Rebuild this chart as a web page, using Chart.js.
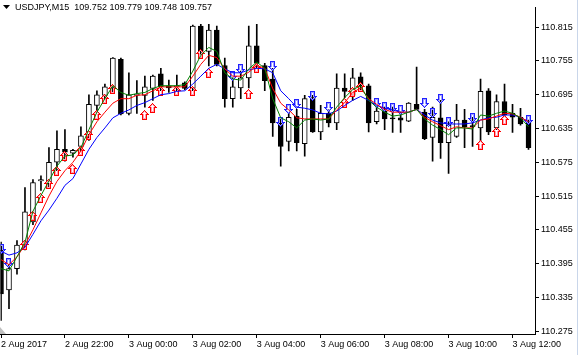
<!DOCTYPE html>
<html><head><meta charset="utf-8">
<script src="https://cdn.jsdelivr.net/npm/chart.js@4.4.1/dist/chart.umd.min.js"></script>
<style>html,body{margin:0;padding:0;background:#fff;overflow:hidden}#wrap{width:580px;height:355px;position:relative}</style>
</head><body><div id="wrap"><canvas id="c" width="580" height="355"></canvas></div>
<script>
const symbolTitle = 'USDJPY,M15';
const headerQuote = ['109.752', '109.779', '109.748', '109.757'];
const timeLabels = ['2 Aug 2017', '2 Aug 22:00', '3 Aug 00:00', '3 Aug 02:00', '3 Aug 04:00', '3 Aug 06:00', '3 Aug 08:00', '3 Aug 10:00', '3 Aug 12:00'];
const timeLabelBars = [0, 8, 16, 24, 32, 40, 48, 56, 64];
const priceTicks = [110.275, 110.335, 110.395, 110.455, 110.515, 110.575, 110.635, 110.695, 110.755, 110.815];

const opens = [110.428,110.348,110.386,110.428,110.469,110.542,110.537,110.575,110.598,110.591,
 110.603,110.624,110.676,110.694,110.707,110.758,110.662,110.694,110.694,110.706,
 110.732,110.711,110.709,110.716,110.706,110.817,110.772,110.810,110.747,110.688,
 110.707,110.725,110.782,110.747,110.723,110.645,110.612,110.657,110.608,110.690,
 110.629,110.662,110.645,110.707,110.694,110.727,110.711,110.647,110.666,110.654,
 110.654,110.648,110.678,110.664,110.619,110.654,110.610,110.621,110.650,110.640,
 110.636,110.702,110.636,110.683,110.662,110.655,110.647];
const highs = [110.433,110.393,110.436,110.530,110.544,110.551,110.601,110.631,110.633,110.598,
 110.638,110.695,110.702,110.714,110.761,110.760,110.734,110.720,110.728,110.730,
 110.742,110.721,110.730,110.718,110.819,110.820,110.820,110.817,110.760,110.725,
 110.737,110.817,110.820,110.751,110.742,110.652,110.662,110.669,110.694,110.694,
 110.676,110.668,110.732,110.732,110.742,110.734,110.714,110.674,110.673,110.673,
 110.664,110.681,110.744,110.669,110.673,110.685,110.647,110.678,110.669,110.655,
 110.723,110.706,110.695,110.714,110.678,110.671,110.650];
const lows = [110.294,110.315,110.376,110.419,110.464,110.525,110.528,110.560,110.577,110.584,
 110.595,110.614,110.664,110.688,110.699,110.659,110.659,110.662,110.673,110.685,
 110.702,110.699,110.702,110.704,110.702,110.767,110.746,110.746,110.673,110.673,
 110.688,110.707,110.742,110.702,110.621,110.568,110.595,110.595,110.586,110.628,
 110.615,110.638,110.633,110.690,110.685,110.702,110.629,110.643,110.633,110.628,
 110.628,110.647,110.668,110.615,110.577,110.582,110.555,110.619,110.601,110.603,
 110.612,110.624,110.633,110.657,110.628,110.641,110.598];
const closes = [110.341,110.386,110.428,110.487,110.539,110.544,110.575,110.598,110.593,110.596,
 110.622,110.678,110.695,110.709,110.760,110.661,110.695,110.695,110.709,110.728,
 110.709,110.707,110.711,110.706,110.817,110.772,110.810,110.749,110.688,110.709,
 110.725,110.782,110.751,110.720,110.645,110.603,110.655,110.610,110.688,110.629,
 110.662,110.645,110.707,110.701,110.725,110.711,110.645,110.666,110.652,110.652,
 110.650,110.680,110.669,110.617,110.655,110.610,110.641,110.650,110.638,110.638,
 110.701,110.629,110.683,110.659,110.655,110.643,110.601];

const maFast = [110.386,110.382,110.407,110.433,110.488,110.516,110.542,110.568,110.586,110.588,
 110.601,110.633,110.664,110.688,110.711,110.699,110.694,110.697,110.699,110.706,
 110.711,110.711,110.711,110.713,110.737,110.765,110.779,110.772,110.734,110.723,
 110.721,110.741,110.753,110.742,110.688,110.654,110.647,110.636,110.650,110.652,
 110.650,110.652,110.673,110.690,110.704,110.711,110.685,110.673,110.664,110.657,
 110.659,110.664,110.669,110.652,110.641,110.633,110.624,110.636,110.636,110.634,
 110.659,110.657,110.662,110.666,110.662,110.654,110.638];
const maMid = [110.402,110.393,110.407,110.428,110.455,110.485,110.515,110.541,110.560,110.575,
 110.595,110.624,110.647,110.664,110.680,110.688,110.688,110.694,110.695,110.702,
 110.709,110.709,110.709,110.709,110.728,110.749,110.765,110.761,110.741,110.728,
 110.728,110.735,110.747,110.742,110.706,110.680,110.668,110.654,110.652,110.652,
 110.652,110.652,110.668,110.681,110.699,110.707,110.688,110.678,110.669,110.664,
 110.664,110.664,110.669,110.655,110.647,110.640,110.633,110.638,110.636,110.636,
 110.650,110.652,110.657,110.662,110.661,110.655,110.647];
const maSlow = [110.417,110.410,110.414,110.424,110.447,110.471,110.490,110.511,110.534,110.546,
 110.572,110.598,110.619,110.636,110.654,110.662,110.668,110.676,110.681,110.688,
 110.695,110.697,110.701,110.702,110.714,110.728,110.742,110.749,110.741,110.734,
 110.734,110.739,110.742,110.741,110.734,110.702,110.688,110.673,110.671,110.668,
 110.662,110.661,110.666,110.676,110.685,110.692,110.685,110.676,110.671,110.668,
 110.664,110.664,110.669,110.659,110.650,110.645,110.643,110.643,110.643,110.645,
 110.650,110.654,110.655,110.659,110.659,110.655,110.647];

const upArrowBars = [3,4,5,6,7,8,9,10,11,12,13,14,18,19,20,22,24,25,26,31,32,43,44,45,60,62,63];
const upArrowPrices = [110.428,110.480,110.511,110.537,110.560,110.586,110.563,110.595,110.624,110.659,110.688,110.706,110.659,110.671,110.702,110.701,110.702,110.767,110.734,110.697,110.742,110.681,110.699,110.709,110.605,110.628,110.650];
const downArrowBars = [0,1,29,30,34,35,36,37,39,41,47,48,49,50,53,54,55,56,59,66];
const downArrowPrices = [110.421,110.396,110.728,110.741,110.746,110.647,110.669,110.678,110.692,110.674,110.680,110.673,110.671,110.668,110.681,110.662,110.687,110.647,110.654,110.650];

// ---- arrow glyphs (pixel art) ----
function makeGlyph(rows, colors) {
  const c = document.createElement('canvas');
  c.width = rows[0].length; c.height = rows.length;
  const g = c.getContext('2d');
  rows.forEach((r, y) => { for (let x = 0; x < r.length; x++) { const col = colors[r[x]]; if (col) { g.fillStyle = col; g.fillRect(x, y, 1, 1); } } });
  return c;
}
const upRows = [
  '....O....',
  '...OIO...',
  '..OI.IO..',
  '.OI...IO.',
  'OOOI.IOOO',
  '..OI.IO..',
  '..OI.IO..',
  '..OI.IO..',
  '..OIIIO..',
  '..OOOOO..'];
const downRows = upRows.slice().reverse();
const upGlyph = makeGlyph(upRows, {O: '#ff0000', I: '#ff9fb4'});
const downGlyph = makeGlyph(downRows, {O: '#2020ff', I: '#a0a0ff'});

const n = opens.length;
const idx = opens.map((_, i) => i);
const wickData = idx.map(i => ({x: i, y: [lows[i], highs[i]]}));
const bodyData = idx.map(i => ({x: i, y: [opens[i], closes[i]]}));
const bodyFill = idx.map(i => closes[i] >= opens[i] ? '#ffffff' : '#000000');
const line = arr => arr.map((v, i) => ({x: i, y: v}));

const FONT = {family: 'Liberation Sans, Arial, sans-serif', size: 9};

const decor = {
  id: 'decor',
  beforeDraw(chart) { chart.ctx.imageSmoothingEnabled = false; },
  afterDraw(chart) {
    const ctx = chart.ctx;
    ctx.save();
    ctx.imageSmoothingEnabled = false;
    // header
    ctx.fillStyle = '#000';
    ctx.beginPath(); ctx.moveTo(3, 5); ctx.lineTo(10, 5); ctx.lineTo(6.5, 9); ctx.closePath(); ctx.fill();
    ctx.font = '9px ' + FONT.family;
    ctx.textBaseline = 'alphabetic';
    ctx.fillText(symbolTitle + '  ' + headerQuote.join(' '), 15, 10);
    // shift marker bottom-left
    ctx.fillStyle = '#c0c0c0';
    ctx.beginPath(); ctx.moveTo(0, 327); ctx.lineTo(0, 334); ctx.lineTo(6, 334); ctx.closePath(); ctx.fill();
    // right edge frame line
    ctx.fillStyle = '#c9d6ea';
    ctx.fillRect(577, 0, 1, 355);
    ctx.restore();
  }
};

new Chart(document.getElementById('c'), {
  type: 'bar',
  data: {
    datasets: [
      {type: 'line', label: 'fast', data: line(maFast), borderColor: '#008000', borderWidth: 1, pointRadius: 0, tension: 0, order: 1},
      {type: 'line', label: 'mid', data: line(maMid), borderColor: '#ff0000', borderWidth: 1, pointRadius: 0, tension: 0, order: 2},
      {type: 'line', label: 'slow', data: line(maSlow), borderColor: '#0000ff', borderWidth: 1, pointRadius: 0, tension: 0, order: 3},
      {type: 'scatter', label: 'up', data: upArrowBars.map((b, k) => ({x: b, y: upArrowPrices[k]})), pointStyle: upGlyph, pointRadius: 5, order: 4},
      {type: 'scatter', label: 'down', data: downArrowBars.map((b, k) => ({x: b, y: downArrowPrices[k]})), pointStyle: downGlyph, pointRadius: 5, order: 4},
      {type: 'bar', label: 'body', data: bodyData, backgroundColor: bodyFill, borderColor: '#000', borderWidth: 1, borderSkipped: false, barThickness: 5, minBarLength: 1, grouped: false, order: 6},
      {type: 'bar', label: 'wick', data: wickData, backgroundColor: '#000', borderWidth: 0, barThickness: 1, grouped: false, order: 7}
    ]
  },
  options: {
    responsive: false,
    animation: false,
    devicePixelRatio: 1,
    layout: {padding: 0, autoPadding: false},
    plugins: {legend: {display: false}, tooltip: {enabled: false}, title: {display: false}},
    scales: {
      x: {
        type: 'linear', position: 'bottom', min: -0.0625, max: 66.8125, offset: false,
        grid: {display: true, drawOnChartArea: false, drawTicks: true, tickLength: 4, color: '#000', offset: false},
        border: {display: true, color: '#000', width: 1},
        ticks: {align: 'start', color: '#000', font: FONT, padding: 1, maxRotation: 0, autoSkip: false,
          callback: v => { const k = timeLabelBars.indexOf(v); return k >= 0 ? timeLabels[k] : ''; }},
        afterBuildTicks: s => { s.ticks = timeLabelBars.map(v => ({value: v})); },
        afterFit: s => { s.height = 21; }
      },
      y: {
        type: 'linear', position: 'right', min: 110.2698, max: 110.8502,
        grid: {display: true, drawOnChartArea: false, drawTicks: true, tickLength: 4, color: '#000'},
        border: {display: true, color: '#000', width: 1},
        ticks: {color: '#000', font: FONT, padding: 2, callback: v => Number(v).toFixed(3)},
        afterBuildTicks: s => { s.ticks = priceTicks.map(v => ({value: v})); },
        afterFit: s => { s.width = 45; }
      }
    }
  },
  plugins: [decor]
});
</script></body></html>
